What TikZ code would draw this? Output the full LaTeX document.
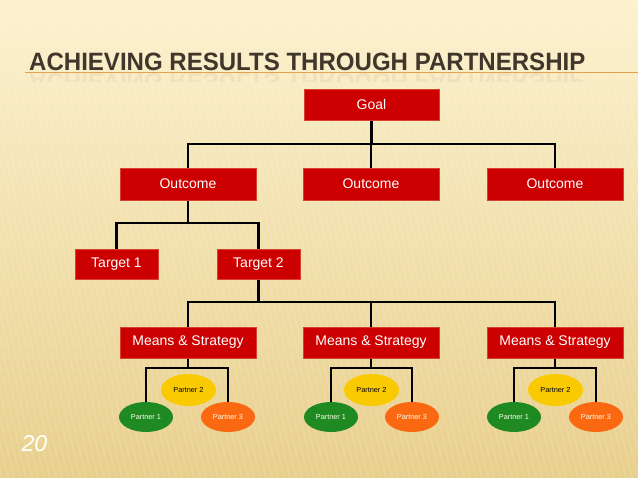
\documentclass[tikz,border=0pt]{standalone}
\usepackage{fontspec}
\setmainfont{Liberation Sans}
\usepackage{graphicx}
\usetikzlibrary{shapes.geometric}
\definecolor{boxred}{HTML}{CC0000}
\definecolor{boxedge}{HTML}{D84030}
\definecolor{titlecol}{HTML}{40362B}
\definecolor{rulecol}{HTML}{E6A24A}
\definecolor{pgreen}{HTML}{1F8A22}
\definecolor{pyellow}{HTML}{FACA00}
\definecolor{porange}{HTML}{FA6812}
\definecolor{bgtop}{HTML}{FCF2CF}
\definecolor{bgbot}{HTML}{E8CF8C}
\pgfdeclarelayer{back}
\pgfdeclarelayer{lines}
\pgfsetlayers{back,lines,main}
\newcommand{\titletext}{\resizebox{556pt}{17.5pt}{\bfseries ACHIEVING RESULTS THROUGH PARTNERSHIP}}
\begin{document}
\begin{tikzpicture}[x=1pt,y=-1pt,
  redbox/.style={rectangle, fill=boxred, draw=boxedge, line width=0.6pt, text=white,
    font=\fontsize{14}{16}\selectfont, inner sep=0pt, minimum height=31pt},
  widebox/.style={redbox, minimum width=136pt},
  tgtbox/.style={redbox, minimum width=83pt, minimum height=30pt},
  partner/.style={ellipse, inner sep=0pt, minimum width=54pt, minimum height=30pt,
    font=\fontsize{7.3}{9}\selectfont},
  conn/.style={line width=2.4pt, black}]
\useasboundingbox (0,0) rectangle (638,478);
\begin{pgfonlayer}{back}
  \shade[top color=bgtop, bottom color=bgbot] (0,0) rectangle (638,478);
  \begin{scope}
    \clip (0,22) rectangle (638,478);
    \foreach \x in {-240,-234,...,660}{
      \draw[white, opacity=0.10, line width=2pt] (\x,0) -- (\x+110,478);
    }
  \end{scope}
  % title reflection
  \begin{scope}
    \clip (0,74) rectangle (638,82);
    \node[anchor=south west, inner sep=0pt, text=titlecol, opacity=0.06, yscale=-1, transform shape] (titleref) at (29,73.5) {\titletext};
  \end{scope}
\end{pgfonlayer}

% title
\node[anchor=south west, inner sep=0pt, text=titlecol] (title) at (29,70.5) {\titletext};
\coordinate (ruleA) at (25,72.5);
\coordinate (ruleB) at (638,72.5);
\draw[rulecol, line width=1pt] (ruleA) -- (ruleB);

% boxes
\node[redbox, minimum width=135pt] (goal) at (371.5,104.5) {Goal};
\node[widebox, minimum height=32pt] (o1) at (188,184) {Outcome};
\node[widebox, minimum height=32pt] (o2) at (371,184) {Outcome};
\node[widebox, minimum height=32pt] (o3) at (555,184) {Outcome};
\node[tgtbox] (t1) at (116.5,264) {Target 1};
\node[tgtbox] (t2) at (258.5,264) {Target 2};
\node[widebox] (m1) at (188,342.5) {Means \& Strategy};
\node[widebox] (m2) at (371,342.5) {Means \& Strategy};
\node[widebox] (m3) at (555,342.5) {Means \& Strategy};

% partners
\foreach \g/\cx/\la/\lb in {1/188/146/228, 2/371/331/412, 3/555/514/596}{
  \node[partner, fill=pyellow, minimum width=55pt, minimum height=32pt, text=black] (p\g b) at (\cx+0.5,390) {Partner 2};
  \node[partner, fill=pgreen, text=white!92!yellow] (p\g a) at (\la,417) {Partner 1};
  \node[partner, fill=porange, text=white!92!yellow] (p\g c) at (\lb,417) {Partner 3};
}

\coordinate (gy) at (0,144);
\coordinate (ty) at (0,223);
\coordinate (my) at (0,302);
\coordinate (by) at (0,368);

\begin{pgfonlayer}{lines}
  \draw[conn] (goal.south) -- (goal|-gy);
  \draw[conn] (o1.north) |- (o3|-gy) -- (o3.north);
  \draw[conn] (o2.north) -- (o2|-gy);
  \draw[conn] (o1.south) -- (o1|-ty);
  \draw[conn] (t1.north) |- (t2|-ty) -- (t2.north);
  \draw[conn] (t2.south) -- (t2|-my);
  \draw[conn] (m1.north) |- (m3|-my) -- (m3.north);
  \draw[conn] (m2.north) -- (m2|-my);
  \draw[conn] (m1.south) -- (m1|-by);
  \draw[conn] (m2.south) -- (m2|-by);
  \draw[conn] (m3.south) -- (m3|-by);
  \foreach \g in {1,2,3}{
    \draw[conn] (p\g a.center) |- (p\g c|-by) -- (p\g c.center);
  }
\end{pgfonlayer}

\node[text=white, font=\fontsize{23}{26}\selectfont\itshape, inner sep=0pt] (pg) at (34.5,444) {20};
\end{tikzpicture}
\end{document}
